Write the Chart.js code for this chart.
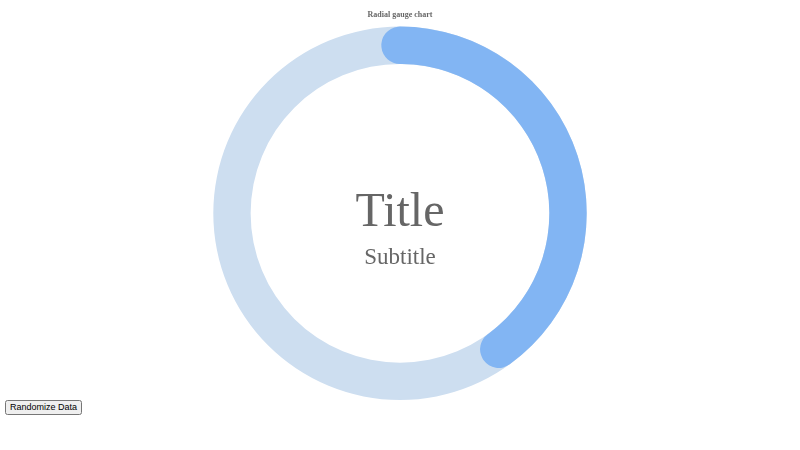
<!DOCTYPE html>
<html>
<head>
<meta charset="utf-8">
<title>Radial gauge chart</title>
<script src="https://cdn.jsdelivr.net/npm/chart.js@4.4.0/dist/chart.umd.min.js"></script>
<style>
  body { margin: 0; background: #fff; font-family: 'Liberation Serif', 'Times New Roman', serif; }
  .chart-box { position: relative; width: 800px; height: 400px; }
  #randomizeData {
    display: block;
    margin: 0 0 0 5px;
    font: 9px 'Liberation Sans', Arial, sans-serif;
    line-height: 11px;
    padding: 0 3px;
  }
</style>
</head>
<body>
<div class="chart-box">
  <canvas id="radial-gauge"></canvas>
</div>
<button id="randomizeData">Randomize Data</button>

<script>
  // gauge data
  const gaugeLabels = ['Value', 'Remaining']
  const gaugeValue = [40]
  const gaugeMax = [100]
  const centerTitle = ['Title']
  const centerSubtitle = ['Subtitle']

  const serif = "'Liberation Serif', 'Times New Roman', serif"
  const cutoutPct = 80

  // round end caps stick out by half the ring width, so widen the arc by that much
  function capPercent() {
    const half = (100 - cutoutPct) / 200
    const mid = 1 - half
    return (half / mid) / (2 * Math.PI) * gaugeMax[0]
  }

  function gaugeData() {
    const cap = capPercent()
    return [gaugeValue[0] + 2 * cap, gaugeMax[0] - gaugeValue[0] - 2 * cap]
  }

  const trackPlugin = {
    id: 'gaugeTrack',
    beforeDatasetsDraw(chart) {
      const arc = chart.getDatasetMeta(0).data[0]
      if (!arc) return
      const ctx = chart.ctx
      ctx.save()
      ctx.beginPath()
      ctx.arc(arc.x, arc.y, arc.outerRadius, 0, Math.PI * 2)
      ctx.arc(arc.x, arc.y, arc.innerRadius, Math.PI * 2, 0, true)
      ctx.closePath()
      ctx.fillStyle = '#cddef0'
      ctx.fill()
      ctx.restore()
    },
  }

  const centerTextPlugin = {
    id: 'centerText',
    afterDatasetsDraw(chart) {
      const arc = chart.getDatasetMeta(0).data[0]
      if (!arc) return
      const ctx = chart.ctx
      ctx.save()
      ctx.fillStyle = '#666'
      ctx.textAlign = 'center'
      ctx.textBaseline = 'alphabetic'
      ctx.font = '48px ' + serif
      ctx.fillText(centerTitle[0], arc.x, arc.y + 13)
      ctx.font = '23px ' + serif
      ctx.fillText(centerSubtitle[0], arc.x, arc.y + 51)
      ctx.restore()
    },
  }

  const gaugeConfig = {
    type: 'doughnut',
    data: {
      labels: gaugeLabels,
      datasets: [
        {
          data: gaugeData(),
          backgroundColor: ['#82b5f3', 'rgba(0,0,0,0)'],
          borderWidth: 0,
          borderRadius: 999,
        },
      ],
    },
    options: {
      responsive: true,
      maintainAspectRatio: false,
      animation: false,
      cutout: cutoutPct + '%',
      rotation: -capPercent() * 3.6,
      layout: { padding: 0 },
      plugins: {
        legend: { display: false },
        tooltip: { enabled: false },
        title: {
          display: true,
          text: 'Radial gauge chart',
          color: '#666',
          font: { family: serif, size: 8, weight: 'bold' },
          padding: { top: 10, bottom: 7 },
        },
      },
    },
    plugins: [trackPlugin, centerTextPlugin],
  }

  const gaugeCanvas = document.getElementById('radial-gauge')
  window.myGauge = new Chart(gaugeCanvas, gaugeConfig)

  document.getElementById('randomizeData').addEventListener('click', function () {
    gaugeValue[0] = Math.round(Math.random() * 90) + 5
    window.myGauge.data.datasets[0].data = gaugeData()
    window.myGauge.update()
  })
</script>
</body>
</html>
